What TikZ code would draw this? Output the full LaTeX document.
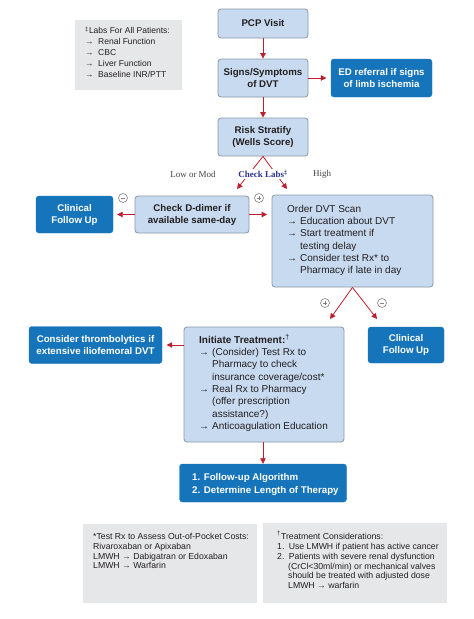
\documentclass[tikz,border=0pt]{standalone}
\usepackage{fontspec}
\setmainfont{Liberation Sans}
\newfontfamily\serifx{Liberation Serif}
\usetikzlibrary{arrows.meta}
\definecolor{lightb}{HTML}{C7DAF0}
\definecolor{lightbd}{HTML}{8B97A3}
\definecolor{darkb}{HTML}{1574BA}
\definecolor{redarr}{HTML}{BE1E2D}
\definecolor{grayb}{HTML}{E6E7E9}
\definecolor{navy}{HTML}{2E3192}
\definecolor{txt}{HTML}{231F20}
\newcommand{\myarr}{\makebox[13pt][l]{→}}
\newcommand{\myind}{\hspace*{13pt}}
\begin{document}
\begin{tikzpicture}[x=1pt,y=-1pt,
 lightbox/.style={draw=lightbd, fill=lightb, rounded corners=3pt, line width=0.8pt, inner sep=0pt, align=center, text=txt, font=\fontsize{9.7}{12}\selectfont\bfseries},
 darkbox/.style={draw=darkb, fill=darkb, rounded corners=3pt, inner sep=0pt, align=center, text=white, font=\fontsize{9.7}{12}\selectfont\bfseries},
 graybox/.style={fill=grayb, draw=none, inner sep=0pt},
 listtext/.style={anchor=west, align=left, inner sep=0pt, text=txt, font=\fontsize{10}{12.3}\selectfont},
 listtextw/.style={anchor=west, align=left, inner sep=0pt, text=white, font=\fontsize{9.7}{12.6}\selectfont\bfseries},
 notetext/.style={anchor=west, align=left, inner sep=0pt, text=txt, font=\fontsize{8.7}{9.9}\selectfont},
 conn/.style={draw=redarr, line width=0.8pt, -{Triangle[length=5.5pt,width=5.5pt]}},
 splitline/.style={draw=redarr, line width=0.8pt},
 sign/.style={circle, draw=gray, line width=0.6pt, minimum size=9pt, inner sep=0pt},
 branchlbl/.style={inner sep=0pt, text=txt!85, font=\serifx\fontsize{9}{10}\selectfont}
]
\useasboundingbox (0,0) rectangle (474,619);

% info box top left
\node[graybox, minimum width=107pt, minimum height=70pt] (labs) at (128.5,55) {};
\node[anchor=west, align=left, inner sep=0pt, text=txt, font=\fontsize{8.5}{10.8}\selectfont] (labstext) at (85,52)
 {\textsuperscript{‡}Labs For All Patients:\\
  \myarr Renal Function\\
  \myarr CBC\\
  \myarr Liver Function\\
  \myarr Baseline INR/PTT};

% main column
\node[lightbox, minimum width=90pt, minimum height=29pt] (pcp) at (263,23.5) {PCP Visit};
\node[lightbox, minimum width=90pt, minimum height=38pt] (signs) at (263,78) {Signs/Symptoms\\of DVT};
\node[darkbox, minimum width=101pt, minimum height=38pt] (ed) at (381.5,78) {ED referral if signs\\of limb ischemia};
\node[lightbox, minimum width=90pt, minimum height=38pt] (risk) at (263,137) {Risk Stratify\\(Wells Score)};

\node[lightbox, minimum width=114pt, minimum height=37pt] (ddimer) at (192,214.5) {Check D-dimer if\\available same-day};
\node[darkbox, minimum width=77pt, minimum height=37pt] (clin1) at (74.5,214.5) {Clinical\\Follow Up};

\node[lightbox, minimum width=161pt, minimum height=92pt] (order) at (352.5,241) {};
\node[listtext] (ordertext) at (287,240.5)
 {Order DVT Scan\\
  \myarr Education about DVT\\
  \myarr Start treatment if\\
  \myind testing delay\\
  \myarr Consider test Rx* to\\
  \myind Pharmacy if late in day};

\node[darkbox, minimum width=133pt, minimum height=37pt] (thromb) at (95.5,345) {Consider thrombolytics if\\extensive iliofemoral DVT};
\node[lightbox, minimum width=160pt, minimum height=115pt] (initiate) at (264,384.5) {};
\node[listtext] (inittext) at (199,383)
 {\textbf{Initiate Treatment:}\textsuperscript{†}\\
  \myarr (Consider) Test Rx to\\
  \myind Pharmacy to check\\
  \myind insurance coverage/cost*\\
  \myarr Real Rx to Pharmacy\\
  \myind (offer prescription\\
  \myind assistance?)\\
  \myarr Anticoagulation Education};
\node[darkbox, minimum width=76pt, minimum height=36pt] (clin2) at (406,345) {Clinical\\Follow Up};

\node[darkbox, minimum width=167pt, minimum height=38pt] (follow) at (263,483) {};
\node[listtextw] (followtext) at (192,484.5)
 {1. Follow-up Algorithm\\
  2. Determine Length of Therapy};

% bottom notes
\node[graybox, minimum width=174pt, minimum height=79pt] (note1) at (170,563.5) {};
\node[notetext] (note1text) at (93,551)
 {*Test Rx to Assess Out-of-Pocket Costs:\\
  Rivaroxaban or Apixaban\\
  LMWH → Dabigatran or Edoxaban\\
  LMWH → Warfarin};
\node[graybox, minimum width=184pt, minimum height=80pt] (note2) at (355,563) {};
\node[notetext] (note2text) at (277,560)
 {\textsuperscript{†}Treatment Considerations:\\
  1.\enspace Use LMWH if patient has active cancer\\
  2.\enspace Patients with severe renal dysfunction\\
  \hspace*{11pt}(CrCl<30ml/min) or mechanical valves\\
  \hspace*{11pt}should be treated with adjusted dose\\
  \hspace*{11pt}LMWH → warfarin};

% connectors
\draw[conn] (pcp) -- (signs);
\draw[conn, shorten >=4.5pt] (signs) -- (ed);
\draw[conn] (signs) -- (risk);

\coordinate (tipL) at (237,189);
\coordinate (tipR) at (287,189);
\draw[conn] (risk.south) -- (tipL);
\draw[conn] (risk.south) -- (tipR);
\node[branchlbl, fill=white, inner sep=1pt, text=navy, font=\serifx\bfseries\fontsize{9}{10}\selectfont] (checklabs) at (263,174) {Check Labs\textsuperscript{‡}};
\node[branchlbl] (lowmod) at (193,174) {Low or Mod};
\node[branchlbl] (high) at (322,174) {High};

\draw[conn, shorten >=4pt] (ddimer) -- (clin1);
\draw[conn, shorten >=4.5pt] (ddimer.east) -- (ddimer.east -| order.west);

\coordinate (tipA) at (330,319);
\coordinate (tipB) at (377,319);
\draw[conn] (order.south) -- (tipA);
\draw[conn] (order.south) -- (tipB);

\draw[conn, shorten >=4.5pt] (initiate.west |- thromb.east) -- (thromb.east);
\draw[conn] (follow.north |- initiate.south) -- (follow.north);

% plus / minus signs
\node[sign] (m1) at (123,198) {};
\draw[gray, line width=0.7pt] ([xshift=-2.4pt]m1.center) -- ([xshift=2.4pt]m1.center);
\node[sign] (p1) at (259,198) {};
\draw[gray, line width=0.7pt] ([xshift=-2.4pt]p1.center) -- ([xshift=2.4pt]p1.center)
  ([yshift=-2.4pt]p1.center) -- ([yshift=2.4pt]p1.center);
\node[sign] (p2) at (325,303) {};
\draw[gray, line width=0.7pt] ([xshift=-2.4pt]p2.center) -- ([xshift=2.4pt]p2.center)
  ([yshift=-2.4pt]p2.center) -- ([yshift=2.4pt]p2.center);
\node[sign] (m2) at (382,303) {};
\draw[gray, line width=0.7pt] ([xshift=-2.4pt]m2.center) -- ([xshift=2.4pt]m2.center);
\end{tikzpicture}
\end{document}
